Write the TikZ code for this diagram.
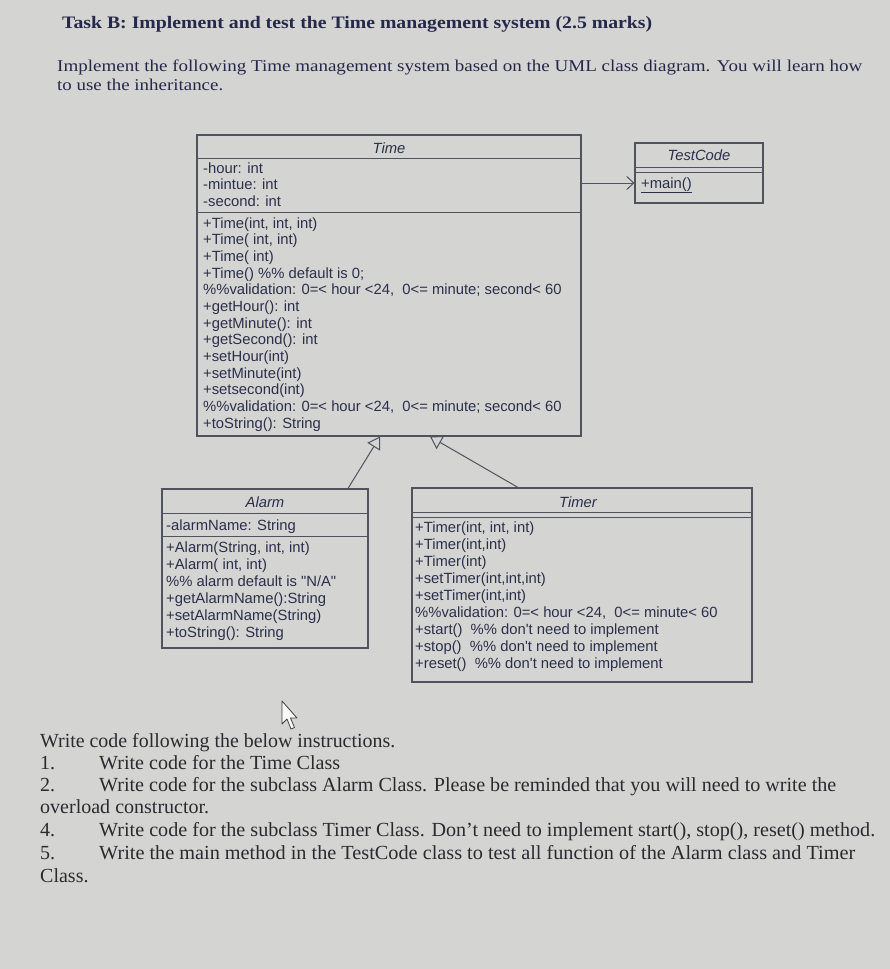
\documentclass[tikz,border=0pt]{standalone}
\usepackage{fontspec}
\setmainfont{Liberation Serif}
\newfontfamily\dfontfam{Liberation Sans}
\usetikzlibrary{arrows.meta}
\newcommand\dfont{\dfontfam\fontsize{14.8}{16}\selectfont}
\newcommand\fitw[2]{\resizebox{#1pt}{\height}{#2}}
\definecolor{bgc}{HTML}{D4D4D2}
\definecolor{ink}{HTML}{2B2F4A}
\definecolor{lineink}{HTML}{50535E}
\definecolor{headink}{HTML}{25284A}
\definecolor{bodyink}{HTML}{2A2A30}
\begin{document}
\begin{tikzpicture}[x=1pt,y=-1pt,
  dtext/.style={anchor=base west, inner sep=0, font=\dfont, text=ink},
  ttext/.style={anchor=base, inner sep=0, font=\dfont\itshape, text=ink},
  classbox/.style={draw=lineink, line width=1.1pt, rectangle, inner sep=0},
  sepline/.style={draw=lineink, line width=1pt},
  body/.style={anchor=base west, inner sep=0, font=\fontsize{20}{23}\selectfont, text=bodyink},
  head/.style={anchor=base west, inner sep=0, font=\fontsize{16.5}{20}\selectfont, text=headink},
  inherit/.style={draw=lineink, line width=1pt, -{Triangle[open, length=12pt, width=15pt]}},
  assoc/.style={draw=lineink, line width=1pt, -{Straight Barb[length=7pt, width=13pt]}},
]
\useasboundingbox (0,0) rectangle (890,969);
\fill[bgc] (0,0) rectangle (890,969);

% heading
\node[head, font=\fontsize{17.5}{20}\selectfont\bfseries] (title) at (62,28) {\fitw{590}{Task B: Implement and test the Time management system (2.5 marks)}};
\node[head] (p1) at (57,71) {\fitw{805}{Implement the following Time management system based on the UML class diagram. You will learn how}};
\node[head] (p2) at (57,90) {\fitw{166}{to use the inheritance.}};

% Time class
\node[classbox, minimum width=384pt, minimum height=301pt] (time) at (389,285.5) {};
\draw[sepline] (197,158) -- (581,158);
\draw[sepline] (197,212) -- (581,212);
\node[ttext] (timet) at (389,153) {Time};
\foreach \t [count=\i from 0] in {{-hour: int}, {-mintue: int}, {-second: int}}
  \node[dtext] (ta\i) at (203,173+16.5*\i) {\t};
\foreach \t [count=\i from 0] in {{+Time(int, int, int)}, {+Time( int, int)}, {+Time( int)}, {+Time() \%\% default is 0;}, {\%\%validation: 0=< hour <24,\ \ 0<= minute; second< 60}, {+getHour(): int}, {+getMinute(): int}, {+getSecond(): int}, {+setHour(int)}, {+setMinute(int)}, {+setsecond(int)}, {\%\%validation: 0=< hour <24,\ \ 0<= minute; second< 60}, {+toString(): String}}
  \node[dtext] (tm\i) at (203,228+16.67*\i) {\t};

% TestCode class
\node[classbox, minimum width=128pt, minimum height=60pt] (test) at (699,173) {};
\draw[sepline] (635,167) -- (763,167);
\draw[sepline] (635,172) -- (763,172);
\node[ttext] (testt) at (699,160) {TestCode};
\node[dtext] (testm) at (641,188) {\underline{+main()}};

% Alarm class
\node[classbox, minimum width=206pt, minimum height=159pt] (alarm) at (265,568.5) {};
\draw[sepline] (162,513) -- (368,513);
\draw[sepline] (162,536) -- (368,536);
\node[ttext] (alarmt) at (265,507) {Alarm};
\node[dtext] (aa0) at (166,530) {-alarmName: String};
\foreach \t [count=\i from 0] in {{+Alarm(String, int, int)}, {+Alarm( int, int)}, {\%\% alarm default is "N/A"}, {+getAlarmName():String}, {+setAlarmName(String)}, {+toString(): String}}
  \node[dtext] (am\i) at (166,552+17*\i) {\t};

% Timer class
\node[classbox, minimum width=340pt, minimum height=194pt] (timer) at (582,585) {};
\draw[sepline] (412,512) -- (752,512);
\draw[sepline] (412,517) -- (752,517);
\node[ttext] (timert) at (578,507) {Timer};
\foreach \t [count=\i from 0] in {{+Timer(int, int, int)}, {+Timer(int,int)}, {+Timer(int)}, {+setTimer(int,int,int)}, {+setTimer(int,int)}, {\%\%validation: 0=< hour <24,\ \ 0<= minute< 60}, {+start()\ \ \%\% don't need to implement}, {+stop()\ \ \%\% don't need to implement}, {+reset()\ \ \%\% don't need to implement}}
  \node[dtext] (rm\i) at (415,532+17*\i) {\t};

% connectors
\draw[assoc] ([yshift=-10pt]time.east |- test.west) -- ([yshift=-10pt]test.west);
\draw[inherit] ([xshift=83pt]alarm.north) -- ([xshift=-9pt]time.south);
\draw[inherit] ([xshift=-64pt]timer.north) -- ([xshift=41pt]time.south);

% mouse pointer
\draw[fill=white!85!bgc, draw=black!75, line width=0.8pt, line join=round]
  (282,701) -- (282,724) -- (287,719) -- (291,729) -- (294.5,727.5) -- (290.5,718) -- (297,718) -- cycle;

% instructions
\node[body] (i0) at (40,747) {\fitw{355}{Write code following the below instructions.}};
\node[body] (n1) at (40,769) {1.};
\node[body] (i1) at (99,769) {\fitw{241}{Write code for the Time Class}};
\node[body] (n2) at (40,791) {2.};
\node[body] (i2) at (99,791) {\fitw{737}{Write code for the subclass Alarm Class. Please be reminded that you will need to write the}};
\node[body] (i2b) at (40,813) {\fitw{169}{overload constructor.}};
\node[body] (n4) at (40,836) {4.};
\node[body] (i4) at (99,836) {\fitw{776}{Write code for the subclass Timer Class. Don't need to implement start(), stop(), reset() method.}};
\node[body] (n5) at (40,859) {5.};
\node[body] (i5) at (99,859) {\fitw{756}{Write the main method in the TestCode class to test all function of the Alarm class and Timer}};
\node[body] (i5b) at (40,882) {Class.};
\end{tikzpicture}
\end{document}
